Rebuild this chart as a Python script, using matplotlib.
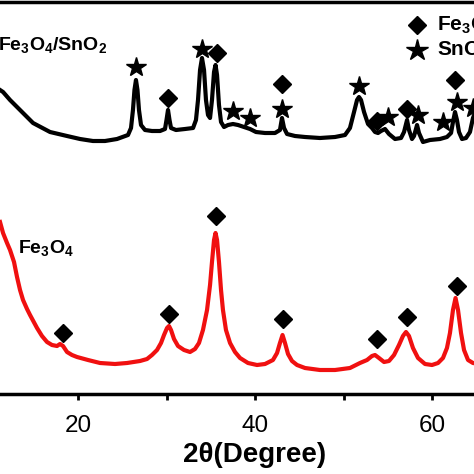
import numpy as np
import matplotlib
matplotlib.use("Agg")
import matplotlib.pyplot as plt

plt.rcParams['font.family'] = ['Liberation Sans', 'DejaVu Sans']
plt.rcParams['mathtext.fontset'] = 'custom'
plt.rcParams['mathtext.rm'] = 'Liberation Sans:bold'
plt.rcParams['mathtext.it'] = 'Liberation Sans:bold:italic'
plt.rcParams['mathtext.bf'] = 'Liberation Sans:bold'

# Fe3O4/SnO2 pattern (2theta, intensity a.u.)
comp_2t = [11.19, 11.53, 12.32, 13.45, 14.92, 16.84, 18.76, 20.23, 21.69, 23.05,
           24.41, 25.65, 25.99, 26.21, 26.38, 26.55, 26.72, 26.89, 27.12, 27.57,
           28.36, 29.27, 29.83, 30.0, 30.17, 30.34, 30.51, 31.07, 32.09, 33.0,
           33.33, 33.56, 33.79, 34.01, 34.24, 34.46, 34.69, 34.92, 35.14, 35.37,
           35.54, 35.71, 35.93, 36.16, 36.5, 36.95, 37.51, 38.08, 38.76, 39.44,
           40.11, 41.13, 42.26, 42.82, 43.05, 43.28, 43.62, 44.52, 45.65, 47.34,
           49.04, 50.17, 50.73, 51.19, 51.53, 51.75, 51.98, 52.32, 52.77, 53.22,
           53.56, 53.9, 54.24, 54.69, 55.14, 55.82, 56.5, 56.84, 57.18, 57.4,
           57.74, 57.97, 58.31, 58.53, 58.98, 59.77, 60.9, 61.69, 62.15, 62.37,
           62.6, 62.82, 63.05, 63.39, 63.84, 64.29, 64.63, 64.97, 65.3, 65.88]
comp_int = [304, 302, 294, 284, 271, 262, 258, 255, 253, 253,
            255, 259, 266, 284, 304, 314, 304, 284, 269, 264,
            263, 263, 265, 274, 284, 274, 266, 264, 265, 266,
            274, 294, 324, 336, 324, 294, 279, 276, 294, 322,
            329, 319, 289, 272, 267, 269, 270, 269, 267, 265,
            262, 261, 261, 264, 276, 266, 260, 258, 257, 256,
            257, 259, 266, 282, 294, 297, 294, 282, 270, 266,
            262, 261, 263, 265, 260, 255, 256, 262, 274, 264,
            255, 258, 269, 261, 252, 254, 255, 257, 261, 272,
            282, 274, 262, 255, 256, 262, 276, 284, 272, 259]

# Fe3O4 pattern
fe_2t = [11.19, 11.53, 11.98, 12.32, 12.77, 13.11, 13.45, 13.79, 14.24, 14.58,
         15.37, 15.93, 16.5, 17.06, 17.63, 17.97, 18.31, 18.76, 19.32, 19.89,
         21.13, 22.49, 24.18, 25.54, 27.01, 27.8, 28.36, 28.93, 29.38, 29.72,
         30.06, 30.28, 30.51, 30.85, 31.3, 31.98, 32.66, 33.22, 33.67, 34.12,
         34.58, 34.92, 35.14, 35.37, 35.54, 35.71, 35.93, 36.16, 36.38, 36.72,
         37.18, 37.74, 38.31, 39.21, 40.23, 41.13, 42.03, 42.49, 42.82, 43.11,
         43.39, 43.73, 44.18, 44.75, 45.65, 47.34, 49.04, 50.73, 51.86, 52.66,
         53.22, 53.56, 54.01, 54.58, 55.14, 55.71, 56.27, 56.72, 57.06, 57.4,
         57.85, 58.42, 59.21, 60.0, 60.68, 61.24, 61.69, 62.03, 62.37, 62.66,
         62.94, 63.28, 63.62, 64.07, 64.63, 65.42]
fe_int = [172, 161, 151, 144, 132, 117, 104, 94, 85, 79,
          66, 58, 52, 49, 48, 50, 48, 42, 39, 37,
          34, 31, 30, 31, 33, 35, 39, 44, 51, 59,
          66, 68, 64, 55, 48, 44, 42, 45, 51, 64,
          84, 109, 132, 154, 161, 154, 132, 104, 84, 64,
          51, 42, 36, 31, 29, 30, 34, 41, 51, 59,
          51, 40, 33, 29, 26, 24, 24, 26, 31, 34,
          38, 39, 36, 32, 33, 39, 49, 58, 62, 58,
          46, 36, 30, 29, 31, 36, 46, 61, 84, 96,
          84, 61, 44, 34, 31, 30]

# peak markers
comp_fe_2t = [30.17, 35.71, 43.05, 53.79, 57.18, 62.6]
comp_fe_y = [296, 341, 310, 273, 285, 314]
comp_sn_2t = [26.55, 34.01, 37.51, 39.44, 43.05, 51.75, 55.03, 58.42, 61.24, 62.82, 64.63]
comp_sn_y = [327, 345, 283, 276, 285, 308, 277, 279, 272, 292, 286]
fe_mark_2t = [18.31, 30.28, 35.6, 43.16, 53.79, 57.18, 62.82]
fe_mark_y = [61, 80, 178, 75, 55, 77, 108]

fig = plt.figure(figsize=(4.74, 4.74), dpi=100)
ax = fig.add_axes([-10.5 / 474, 80 / 474, 531 / 474, 392 / 474])

ax.plot(comp_2t, comp_int, color='black', lw=3, solid_joinstyle='round')
ax.plot(fe_2t, fe_int, color='#f01010', lw=3, solid_joinstyle='round')

ax.plot(comp_fe_2t, comp_fe_y, 'D', color='black', ms=9.5, ls='none')
ax.plot(comp_sn_2t, comp_sn_y, '*', color='black', ms=15, ls='none')
ax.plot(fe_mark_2t, fe_mark_y, 'D', color='black', ms=9.5, ls='none')

# legend
ax.plot([58.3], [369], 'D', color='black', ms=9.5)
ax.plot([58.3], [344], '*', color='black', ms=16)
ax.text(60.6, 369, r'Fe$_3$O$_4$', fontsize=15, fontweight='bold', va='center', ha='left')
ax.text(60.6, 344, r'SnO$_2$', fontsize=15, fontweight='bold', va='center', ha='left')

ax.text(10.95, 349, r'Fe$_3$O$_4$/SnO$_2$', fontsize=14, fontweight='bold',
        va='center', ha='left')
ax.text(13.2, 146, r'Fe$_3$O$_4$', fontsize=14, fontweight='bold', va='center', ha='left')

ax.set_xlim(10, 70)
ax.set_ylim(0, 392)
ax.set_xticks([20, 30, 40, 50, 60])
ax.set_xticklabels(['20', '', '40', '', '60'])
ax.set_yticks([])
for s in ax.spines.values():
    s.set_linewidth(2.5)
ax.tick_params(axis='x', direction='out', length=4, width=2, labelsize=17.5, pad=11)
ax.set_xlabel('2θ(Degree)', fontsize=20, fontweight='bold', labelpad=4)

fig.savefig('out.png', dpi=100)
